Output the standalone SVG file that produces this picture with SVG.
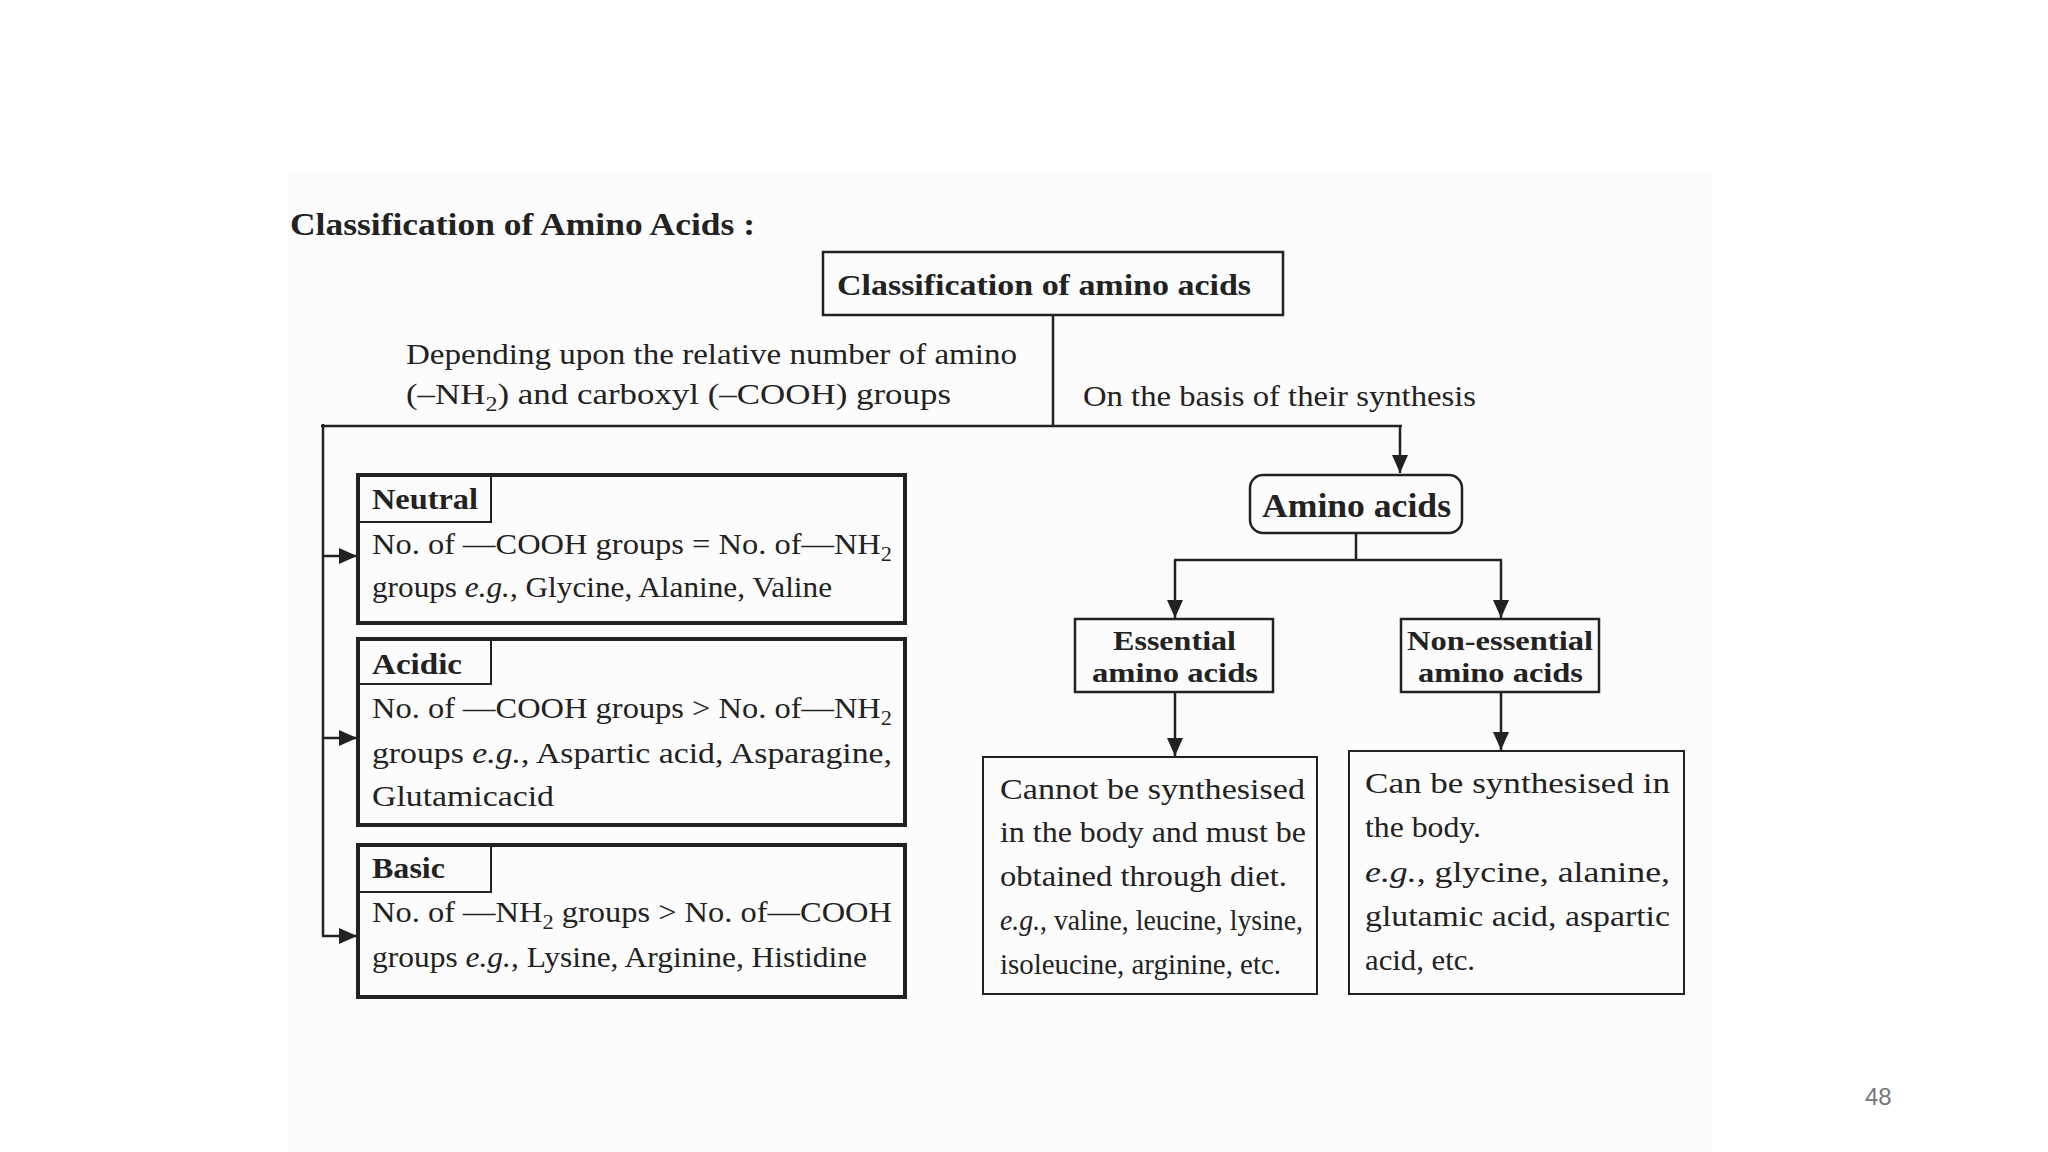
<svg xmlns="http://www.w3.org/2000/svg" width="2048" height="1152" viewBox="0 0 2048 1152">
  <style>
    .t { font-family: "Liberation Serif", "Times New Roman", serif; fill: #222; }
    .b { font-weight: bold; }
    .body { font-size: 29px; }
    .box { fill: none; stroke: #222; }
    .thick { stroke-width: 4; }
    .med { stroke-width: 2.5; }
    .thin { stroke-width: 2; }
    .ln { fill: none; stroke: #222; stroke-width: 2.5; }
    .pg { font-family: "Liberation Sans", Arial, sans-serif; font-size: 24px; fill: #777; }
  </style>
  <defs>
    <marker id="arr" viewBox="0 0 18 16" refX="18" refY="8" markerWidth="18" markerHeight="16" markerUnits="userSpaceOnUse" orient="auto">
      <path d="M0,0 L18,8 L0,16 z" fill="#222"/>
    </marker>
  </defs>
  <rect x="0" y="0" width="2048" height="1152" fill="#ffffff"/>
  <rect x="288" y="170" width="1424" height="982" fill="#fcfcfc"/>

  <text class="t b" x="290" y="235" font-size="31" textLength="465" lengthAdjust="spacingAndGlyphs">Classification of Amino Acids :</text>

  <g id="connectors">
    <line class="ln" x1="1053" y1="315" x2="1053" y2="426" stroke-width="4"/>
    <line class="ln" x1="321" y1="426" x2="1402" y2="426" stroke-width="3"/>
    <line class="ln" x1="1400" y1="426" x2="1400" y2="473" marker-end="url(#arr)"/>
    <line class="ln" x1="323" y1="424" x2="323" y2="936" stroke-width="3"/>
    <line class="ln" x1="322" y1="556" x2="357" y2="556" marker-end="url(#arr)"/>
    <line class="ln" x1="322" y1="738" x2="357" y2="738" marker-end="url(#arr)"/>
    <line class="ln" x1="322" y1="936" x2="357" y2="936" marker-end="url(#arr)"/>
    <line class="ln" x1="1356" y1="533" x2="1356" y2="560"/>
    <line class="ln" x1="1174" y1="560" x2="1502" y2="560"/>
    <line class="ln" x1="1175" y1="560" x2="1175" y2="618" marker-end="url(#arr)"/>
    <line class="ln" x1="1501" y1="560" x2="1501" y2="618" marker-end="url(#arr)"/>
    <line class="ln" x1="1175" y1="692" x2="1175" y2="756" marker-end="url(#arr)"/>
    <line class="ln" x1="1501" y1="692" x2="1501" y2="750" marker-end="url(#arr)"/>
  </g>

  <g id="labels">
    <text class="t body" x="406" y="364" textLength="611" lengthAdjust="spacingAndGlyphs">Depending upon the relative number of amino</text>
    <text class="t body" x="406" y="404" textLength="545" lengthAdjust="spacingAndGlyphs">(–NH<tspan dy="7" font-size="20">2</tspan><tspan dy="-7">) and carboxyl (–COOH) groups</tspan></text>
    <text class="t body" x="1083" y="406" textLength="393" lengthAdjust="spacingAndGlyphs">On the basis of their synthesis</text>
  </g>

  <g id="root">
    <rect class="box med" x="823" y="252" width="460" height="63"/>
    <text class="t b" x="837" y="295" font-size="30" textLength="414" lengthAdjust="spacingAndGlyphs">Classification of amino acids</text>
  </g>

  <g id="neutral">
    <rect class="box thick" x="358" y="475" width="547" height="148"/>
    <rect class="box thin" x="358" y="475" width="133" height="47"/>
    <text class="t b" x="372" y="509" font-size="29" textLength="106" lengthAdjust="spacingAndGlyphs">Neutral</text>
    <text class="t body" x="372" y="554" textLength="520" lengthAdjust="spacingAndGlyphs">No. of  —COOH groups = No. of—NH<tspan dy="7" font-size="20">2</tspan></text>
    <text class="t body" x="372" y="597" textLength="460" lengthAdjust="spacingAndGlyphs">groups <tspan font-style="italic">e.g.</tspan>, Glycine, Alanine, Valine</text>
  </g>

  <g id="acidic">
    <rect class="box thick" x="358" y="639" width="547" height="186"/>
    <rect class="box thin" x="358" y="639" width="133" height="45"/>
    <text class="t b" x="372" y="674" font-size="29" textLength="90" lengthAdjust="spacingAndGlyphs">Acidic</text>
    <text class="t body" x="372" y="718" textLength="520" lengthAdjust="spacingAndGlyphs">No. of  —COOH groups &gt; No. of—NH<tspan dy="7" font-size="20">2</tspan></text>
    <text class="t body" x="372" y="763" textLength="520" lengthAdjust="spacingAndGlyphs">groups  <tspan font-style="italic">e.g.</tspan>,  Aspartic  acid,  Asparagine,</text>
    <text class="t body" x="372" y="806" textLength="182" lengthAdjust="spacingAndGlyphs">Glutamicacid</text>
  </g>

  <g id="basic">
    <rect class="box thick" x="358" y="845" width="547" height="152"/>
    <rect class="box thin" x="358" y="845" width="133" height="47"/>
    <text class="t b" x="372" y="878" font-size="29" textLength="73" lengthAdjust="spacingAndGlyphs">Basic</text>
    <text class="t body" x="372" y="922" textLength="520" lengthAdjust="spacingAndGlyphs">No. of  —NH<tspan dy="7" font-size="20">2</tspan><tspan dy="-7"> groups &gt; No. of—COOH</tspan></text>
    <text class="t body" x="372" y="967" textLength="495" lengthAdjust="spacingAndGlyphs">groups <tspan font-style="italic">e.g.</tspan>, Lysine, Arginine, Histidine</text>
  </g>

  <g id="amino-acids">
    <rect class="box med" x="1250" y="475" width="212" height="58" rx="13" ry="13"/>
    <text class="t b" x="1262" y="517" font-size="33" textLength="189" lengthAdjust="spacingAndGlyphs">Amino acids</text>
  </g>

  <g id="essential">
    <rect class="box med" x="1075" y="619" width="198" height="73"/>
    <text class="t b" x="1113" y="650" font-size="28" textLength="123" lengthAdjust="spacingAndGlyphs">Essential</text>
    <text class="t b" x="1092" y="682" font-size="28" textLength="166" lengthAdjust="spacingAndGlyphs">amino acids</text>
  </g>

  <g id="non-essential">
    <rect class="box med" x="1401" y="619" width="198" height="73"/>
    <text class="t b" x="1407" y="650" font-size="28" textLength="186" lengthAdjust="spacingAndGlyphs">Non-essential</text>
    <text class="t b" x="1418" y="682" font-size="28" textLength="165" lengthAdjust="spacingAndGlyphs">amino acids</text>
  </g>

  <g id="essential-desc">
    <rect class="box thin" x="983" y="757" width="334" height="237"/>
    <text class="t body" x="1000" y="799" textLength="305" lengthAdjust="spacingAndGlyphs">Cannot  be  synthesised</text>
    <text class="t body" x="1000" y="842" textLength="306" lengthAdjust="spacingAndGlyphs">in the body and must be</text>
    <text class="t body" x="1000" y="886" textLength="287" lengthAdjust="spacingAndGlyphs">obtained through diet.</text>
    <text class="t body" x="1000" y="930" textLength="303" lengthAdjust="spacingAndGlyphs"><tspan font-style="italic">e.g.</tspan>, valine, leucine, lysine,</text>
    <text class="t body" x="1000" y="974" textLength="281" lengthAdjust="spacingAndGlyphs">isoleucine, arginine, etc.</text>
  </g>

  <g id="non-essential-desc">
    <rect class="box thin" x="1349" y="751" width="335" height="243"/>
    <text class="t body" x="1365" y="793" textLength="305" lengthAdjust="spacingAndGlyphs">Can  be  synthesised  in</text>
    <text class="t body" x="1365" y="837" textLength="116" lengthAdjust="spacingAndGlyphs">the body.</text>
    <text class="t body" x="1365" y="882" textLength="305" lengthAdjust="spacingAndGlyphs"><tspan font-style="italic">e.g.</tspan>,  glycine,  alanine,</text>
    <text class="t body" x="1365" y="926" textLength="305" lengthAdjust="spacingAndGlyphs">glutamic  acid,  aspartic</text>
    <text class="t body" x="1365" y="970" textLength="110" lengthAdjust="spacingAndGlyphs">acid, etc.</text>
  </g>

  <text class="pg" x="1865" y="1105">48</text>
</svg>
